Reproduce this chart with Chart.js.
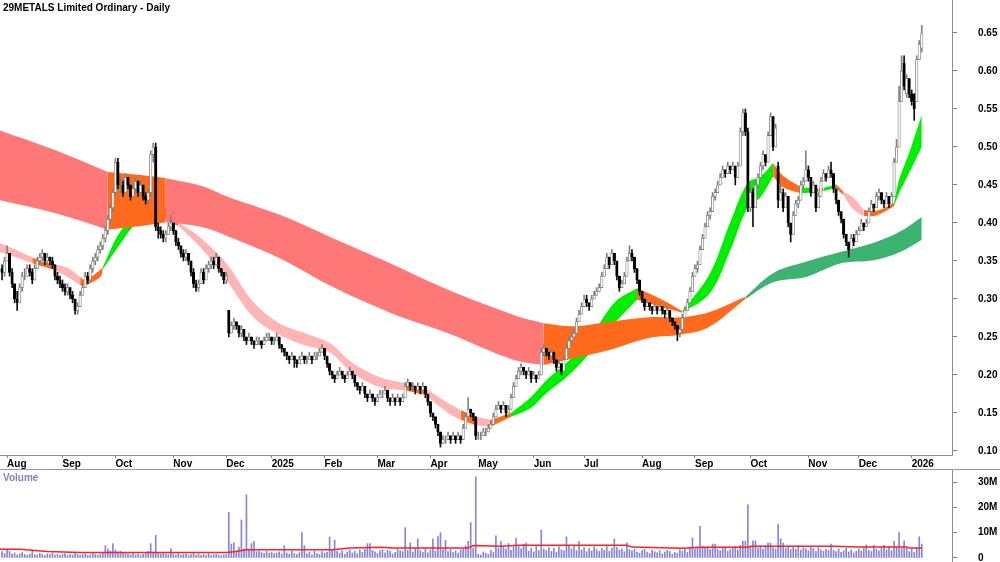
<!DOCTYPE html>
<html lang="pt-BR">
<head>
<meta charset="utf-8">
<title>29METALS Limited Ordinary - Daily</title>
<script src="https://cdn.jsdelivr.net/npm/chart.js@4.4.1/dist/chart.umd.min.js"></script>
<style>
  html, body { margin: 0; padding: 0; background: #fff; }
  #quadro { position: relative; width: 1000px; height: 562px; overflow: hidden; font-family: "Liberation Sans", Arial, sans-serif; }
  #grafico { position: absolute; left: 0; top: 0; }
  #graficoVolume { position: absolute; left: 0; top: 470px; }
  #titulo { position: absolute; left: 3px; top: 2px; font-weight: bold; font-size: 10px; color: #000; }
  #rotuloVolume { position: absolute; left: 3px; top: 472px; font-weight: bold; font-size: 10px; color: #8080c0; }
  #divisoria { position: absolute; left: 0; top: 469px; width: 1000px; height: 1px; background: #9a9a9a; }
</style>
</head>
<body>
<div id="quadro">
  <canvas id="grafico" width="1000" height="470"></canvas>
  <canvas id="graficoVolume" width="1000" height="92"></canvas>
  <div id="divisoria"></div>
  <div id="titulo">29METALS Limited Ordinary - Daily</div>
  <div id="rotuloVolume">Volume</div>
</div>
<script>
//-----------------------------------------------------------------------------------------------
// Eixo de datas: indice do pregao onde cada mes comeca
const meses = ['Aug','Sep','Oct','Nov','Dec','2025','Feb','Mar','Apr','May','Jun','Jul','Aug','Sep','Oct','Nov','Dec','2026'];
const inicioMes = [2,24,45,68,89,107,128,149,170,189,211,231,254,275,297,320,340,361];

// Marcas do eixo de preco (em centavos) e do volume (milhoes)
const marcasPreco = [10,15,20,25,30,35,40,45,50,55,60,65];
const marcasVolume = [0,10,20,30];

//-----------------------------------------------------------------------------------------------
// Velas diarias [abertura, maxima, minima, fechamento] em centavos
const velas = [
  [34,34.5,32.5,33.5],[33.5,35.5,33,35],[35,37,35,36],[36,36,33,33.5],[33.5,34,31.5,32],
  [32,32,29.5,30],[30,31,28.5,29.5],[29.5,32,29.5,31.5],[31.5,33.5,31,33],[33,34,32.5,33],
  [33,34.5,33,34],[34,34.5,33,33.5],[33.5,34,32,32.5],[32.5,34.5,32.5,34],[34,35.5,34,35],
  [35,36,34.5,35.5],[35.5,36.5,35,36],[36,36,34.5,35],[35,36,34.5,35.5],[35.5,35.5,34.5,35],
  [35,35.5,34,34.5],[34.5,34.5,32.5,33],[33,33.5,32,32.5],[32.5,33,31.5,32],[32,32.5,31,31.5],
  [31.5,32,30.5,31],[31,32,30.5,31.5],[31.5,31.5,30,30.5],[30.5,31,29.5,30],[30,30,28,28.5],
  [28.5,29.5,28,29],[29,31,29,30.5],[30.5,32,30.5,31.5],[31.5,33.5,31.5,33],[33,33.5,32,32.5],
  [32.5,34.5,32.5,34],[34,35.5,33.5,35],[35,36,34.5,35.5],[35.5,37,35,36.5],[36.5,37.5,36,37],
  [37,38.5,36.5,38],[38,39.5,37.5,39],[39,41,38.5,40.5],[40.5,42.5,40,42],[42,44.5,41.5,44],
  [44,48.5,43.5,48],[48,48.5,44.5,45],[45,46,44,45],[45,45.5,43.5,44],[44,46.5,44,46],
  [46,46,44.5,45],[45,45,43,43.5],[43.5,45,43.5,44.5],[44.5,46,44,45.5],[45.5,45.5,43.5,44],
  [44,45.5,44,45],[45,45,43,43.5],[43.5,44,42.5,43],[43,44.5,42.5,44],[44,49.5,43.5,49],
  [49,50.5,48,50],[50,50.5,39,39.5],[39.5,40,38,39],[39,39.5,38,38.5],[38.5,39,37.5,38],
  [38,39,37.5,38.5],[38.5,40,38.5,39.5],[39.5,41,39,40],[40,40,38.5,39],[39,39,37,37.5],
  [37.5,38,36.5,37],[37,37,35.5,36],[36,36.5,35,35.5],[35.5,36.5,35,36],[36,36,34.5,35],
  [35,35,33,33.5],[33.5,34,31.5,32],[32,32.5,31,31.5],[31.5,32.5,31,32],[32,34,32,33.5],
  [33.5,34,32,32.5],[32.5,34.5,32.5,34],[34,35,33.5,34.5],[34.5,35.5,34,35],[35,35.5,34,34.5],
  [34.5,36,34.5,35.5],[35.5,35.5,33.5,34],[34,34,33,33.5],[33.5,33.5,32,32.5],[32.5,33.5,32,33],
  [28.5,28.5,25,25.5],[25.5,27,25.5,26.5],[26.5,27.5,26,27],[27,27,26,26.5],[26.5,26.5,25,25.5],
  [25.5,26.5,25,26],[26,26,24.5,25],[25,25,24,24.5],[24.5,25.5,24.5,25],[25,25,24,24.5],
  [24.5,24.5,23.5,24],[24,25,24,24.5],[24.5,25,24,24.5],[24.5,24.5,23.5,24],[24,25,24,24.5],
  [24.5,25.5,24.5,25],[25,25.5,24.5,25],[25,25,24,24.5],[24.5,25,24,24.5],[24.5,25.5,24.5,25],
  [25,25,23.5,24],[24,24,23,23.5],[23.5,23.5,22.5,23],[23,23,22,22.5],[22.5,22.5,21.5,22],
  [22,23,22,22.5],[22.5,22.5,21,22],[22,22,21,21.5],[21.5,22.5,21.5,22],[22,23,22,22.5],
  [22.5,22.5,21.5,22],[22,22.5,21.5,22],[22,23,22,22.5],[22.5,22.5,21.5,22],[22,23,22,22.5],
  [22.5,23,22,22.5],[22.5,23.5,22.5,23],[23,24,23,23.5],[23.5,23.5,22,22.5],[22.5,22.5,21,21.5],
  [21.5,21.5,20,20.5],[20.5,20.5,19.5,20],[20,20,19,19.5],[19.5,20.5,19.5,20],[20,21,20,20.5],
  [20.5,20.5,19.5,20],[20,20,19,19.5],[19.5,20.5,19.5,20],[20,21,20,20.5],[20.5,20.5,19.5,20],
  [20,20,18.5,19],[19,19,18,18.5],[18.5,18.5,17.5,18],[18,19,18,18.5],[18.5,18.5,17,17.5],
  [17.5,17.5,16.5,17],[17,18,17,17.5],[17.5,17.5,16.5,17],[17,17,16,16.5],[16.5,17.5,16.5,17],
  [17,18,17,17.5],[17.5,18,17,17.5],[17.5,18.5,17.5,18],[18,18,16.5,17],[17,17,16,16.5],
  [16.5,17.5,16.5,17],[17,17,16,16.5],[16.5,17.5,16.5,17],[17,17,16,16.5],[16.5,17.5,16.5,17],
  [17,19,17,18.5],[18.5,19.5,18.5,19],[19,19,18,18.5],[18.5,19,18,18.5],[18.5,18.5,17.5,18],
  [18,19,18,18.5],[18.5,18.5,17.5,18],[18,19,18,18.5],[18.5,18.5,17,17.5],[17.5,17.5,16,16.5],
  [16.5,16.5,14.5,15],[15,15,14,14.5],[14.5,14.5,13,13.5],[13.5,13.5,12,12.5],[12.5,12.5,10.5,11],
  [11,12,11,11.5],[11.5,12,11,11.5],[11.5,12.5,11.5,12],[12,12,11,11.5],[11.5,12.5,11.5,12],
  [12,12,11,11.5],[11.5,12.5,11.5,12],[12,12,11,11.5],[11.5,13.5,11.5,13],[13,15,13,14.5],
  [14.5,17,14.5,15.5],[15.5,15.5,14.5,15],[15,15,14,14.5],[14.5,14.5,11.5,12],[12,12.5,11.5,12],
  [12,12.5,11.5,12],[12,13,12,12.5],[12.5,13,12,12.5],[12.5,13.5,12.5,13],[13,14,13,13.5],
  [13.5,15,13.5,14.5],[14.5,16,14.5,15.5],[15.5,16.5,15.5,16],[16,16,15,15.5],[15.5,16.5,15.5,16],
  [16,16,14.5,15],[15,16,15,15.5],[15.5,17.5,15.5,17],[17,19,17,18.5],[18.5,20,18.5,19.5],
  [19.5,21,19.5,20.5],[20.5,21.5,20,21],[21,21,20,20.5],[20.5,20.5,19.5,20],[20,21,20,20.5],
  [20.5,20.5,19,19.5],[19.5,20.5,19.5,20],[20,20,19,19.5],[19.5,20.5,19.5,20],[20,23.5,20,23],
  [23,24,22.5,23.5],[23.5,23.5,22.5,23],[23,23,22,22.5],[22.5,23.5,22.5,23],[23,23,21.5,22],
  [22,22,20.5,21],[21,22,21,21.5],[21.5,21.5,20,20.5],[20.5,22.5,20.5,22],[22,24,22,23.5],
  [23.5,25,23.5,24.5],[24.5,25.5,24,25],[25,26,25,25.5],[25.5,27.5,25.5,27],[27,28.5,27,28],
  [28,29.5,28,29],[29,30.5,29,30],[30,30.5,29,29.5],[29.5,29.5,28.5,29],[29,30.5,29,30],
  [30,31,30,30.5],[30.5,31.5,30.5,31],[31,32,31,31.5],[31.5,33.5,31.5,33],[33,34.5,33,34],
  [34,36,34,35.5],[35.5,35.5,34,34.5],[34.5,36.5,34.5,36],[36,36,34.5,35],[35,35,32.5,33],
  [33,33,31,31.5],[31.5,32.5,31.5,32],[32,33.5,32,33],[33,35.5,33,35],[35,37,35,36],
  [36,36.5,35,35.5],[35.5,35.5,33.5,34],[34,34,32,32.5],[32.5,32.5,30.5,31],[31,31,29.5,30],
  [30,30,28.5,29],[29,30,29,29.5],[29.5,29.5,28.5,29],[29,29,28,28.5],[28.5,29.5,28.5,29],
  [29,29,28,28.5],[28.5,29.5,28.5,29],[29,29,28,28.5],[28.5,28.5,27.5,28],[28,29,28,28.5],
  [28.5,28.5,27,27.5],[27.5,27.5,26.5,27],[27,27,26,26.5],[26.5,26.5,24.5,25.5],[25.5,26.5,25,26],
  [26,28,26,27.5],[27.5,29,27.5,28.5],[28.5,30,28.5,29.5],[29.5,31.5,29.5,31],[31,33.5,31,33],
  [33,34.5,33,34],[34,35,33.5,34.5],[34.5,37,34.5,36.5],[36.5,38.5,36.5,38],[38,40,38,39.5],
  [39.5,41.5,39.5,41],[41,42,40.5,41.5],[41.5,44,41.5,43.5],[43.5,44.5,43,44],[44,45.5,44,45],
  [45,46.5,45,46],[46,47.5,46,47],[47,47,46,46.5],[46.5,48,46.5,47.5],[47.5,47.5,46.5,47],
  [47,48,47,47.5],[47.5,47.5,45,46],[46,48,46,47.5],[47.5,52.5,47.5,52],[52,55,51.5,54.5],
  [54.5,55,51.5,52],[52,52.5,41.5,42],[42,44.5,41.5,44],[44,44.5,39.5,42],[42,45.5,42,45],
  [45,46.5,44.5,46],[46,48,46,47.5],[47.5,49.5,47,49],[49,49,47.5,48],[48,52,48,51.5],
  [51.5,54.5,51.5,54],[54,54,49.5,50],[50,53,50,52.5],[47.5,48,42,43],[43,45,43,44],
  [44,44.5,41.5,42],[42,44,42,43.5],[43.5,43.5,39.5,40],[40,40,37.5,38.5],[38.5,41.5,38.5,41],
  [41,43,41,42.5],[42.5,43.5,42,43],[43,45.5,43,45],[45,46,44.5,45.5],[45.5,49.5,45.5,47],
  [47,47.5,45.5,46],[46,46,43.5,44],[44,45.5,44,45],[45,45,41.5,42],[42,44,42,43.5],
  [43.5,46,43.5,45.5],[45.5,47,45.5,46.5],[46.5,46.5,45.5,46],[46,47.5,46,47],[47,48,46,46.5],
  [46.5,46.5,44,44.5],[44.5,44.5,42.5,43],[43,43,41,41.5],[41.5,41.5,40,40.5],[40.5,40.5,38,38.5],
  [38.5,38.5,37,37.5],[37.5,37.5,35.5,36.5],[36.5,38.5,36.5,38],[38,38.5,37,37.5],[37.5,39,37.5,38.5],
  [38.5,39.5,38.5,39],[39,40.5,39,40],[40,40,39,39.5],[39.5,40.5,39.5,40],[40,42,40,41.5],
  [41.5,43,41.5,42.5],[42.5,42.5,41.5,42],[42,44,42,43.5],[43.5,44.5,43,44],[44,44,42.5,43],
  [43,43,42,42.5],[42.5,44,42.5,43.5],[43.5,43.5,42,42.5],[42.5,44,42.5,43.5],[43.5,48.5,43.5,48],
  [48,51,48,50],[50,58,50,56],[56,62,56,60],[61,62,57.5,58],[57,59.5,56.5,59],
  [59,59,56.5,57],[57,57.5,55.5,56],[57,57,53.5,55],[56,62,56,61.5],[61.5,64,61.5,63.5],
  [63,66,62.5,65]
];

// Volume diario em milhoes
const volumes = [
  2.5,1.8,3,2.6,1.5,2,1.2,1.6,2.2,1.4, 1.1,1.5,2.8,1.3,1.2,1.9,1.4,1,1.6,1.3,
  2,1.2,1.4,1.1,1.5,1.7,1,1.3,1.2,1.8, 1.4,1.1,1.3,1.6,1,1.2,1.9,1.4,1.1,1.5,
  2.2,4.9,3.5,2.8,5.7,3.2,2.4,2.6,2,1.8, 1.6,1.3,1.9,1.2,1.5,1,1.4,1.7,2.6,5.7,
  2.4,9,2.2,1.6,2,1.5,1.3,3.7,1.6,1.2, 1.8,1.1,1.4,1.5,1,1.3,2,1.2,1.6,1.1,
  1.4,1.2,1.7,1,1.3,1.5,1.1,0.9,1.2,1.4, 18,5.5,6,2.4,4.3,15,3.6,25,3.5,5.7,
  6.6,2.5,2.8,2.2,1.8,2.6,1.9,2.3,1.7,2, 2.4,1.6,4.9,2,1.5,2.7,1.8,1.3,2.1,10,
  4.9,1.6,2.3,1.2,2.8,1.7,1.4,2.5,1.9,2.2, 8.3,3,7,2.6,1.8,2.9,1.5,2.4,3.1,2,
  2.6,1.7,3.2,2.2,3.5,5.7,5.7,3,2.4,1.8, 2.9,3.3,2,3.1,2.6,1.6,2.2,3.4,2.8,2.5,
  12,3,6,2.4,3.8,7.6,2.9,2.2,3.5,2, 3.1,7.6,2.7,8.5,10,3.3,7,2.5,3.4,2.1,
  2.8,1.9,3.2,3.5,4.8,6.6,14,4,32,1.5, 1.2,2.4,1.8,1.4,3,2.2,8.8,3.9,6.6,4.2,
  3.5,5.7,3,4.4,7.9,4.8,3.6,5.5,6,2.7, 3.9,2.4,4.6,3,11,3.5,2.9,4.1,2.6,3.8,
  2.2,4.4,3.3,2.8,8.3,5,3.6,4.7,2.9,6.6, 3.2,4.1,2.5,3.7,2.8,4.4,3.3,2.6,3.9,3.1,
  4.5,2.7,3.8,7.5,4.2,3.1,3.6,2.4,6,3.3, 2.8,3.5,2.2,1.9,2.9,3.4,2.3,1.8,3.1,2.5,
  2.1,2.9,1.6,2.4,3,2.7,1.4,2.2,1.9,3.2, 2.6,3.4,2.2,4.1,7.9,3.6,4.2,12.5,4.6,3.8,
  4.4,3.3,5.5,5.5,3.5,2.9,3.8,4.1,2.7,3.4, 3.9,4.6,3.2,5,6.6,6.6,21,4.4,6.8,6.8,
  3.9,4.3,3.5,4.8,5.9,5.9,4,3.6,13.4,7.6, 5.9,3.8,4.6,3.3,4.2,3.5,4.8,3.1,4,3.6,
  2.9,4.4,3.7,2.6,4.1,3.2,2.7,3.5,3,5.5, 3.1,2.5,3.6,2.2,2.9,3.8,2.4,3.2,2,2.7,
  3.5,2.8,3.9,5.2,3,2.6,5,3.4,2.8,3.9, 5,3.2,4.6,2.9,6.6,4.2,10,3.7,6.8,4.1,
  2.5,3.6,2.2,4,8.4,5.5
];

// Media do volume (linha vermelha), lida em pontos
const mediaVolX = [-1,7,18,31,89,92,97,131,138,151,155,185,187,198,205,248,250,270,277,296,297,330,340,359,360,365];
const mediaVolY = [3.5,3.5,2.6,2.2,2.2,2.5,3.3,3.3,3.9,4.2,3.9,3.9,4.9,4.6,5,5,4.3,3.8,4.2,4.2,4.6,4.6,4.3,4.3,3.9,3.9];

//-----------------------------------------------------------------------------------------------
// Faixa das medias longas (topo / base em centavos); estado: r = vermelho, o = laranja, g = verde
const longoX    = [-1,21,42,55,65,79,90,110,130,154,177,203,215,227,241,257,269,280,295,306,319,333,346,356,365];
const longoTopo = [52.2,49.6,46.7,46.3,45.9,44.9,43.4,41.1,38.2,34.7,31.2,27.9,26.8,26.4,27.0,27.6,27.6,28.2,30.3,33.4,34.9,36.2,37.4,38.8,40.8];
const longoBase = [43.0,41.3,39.1,39.6,40.1,39.5,38.2,35.4,31.8,28.2,25.5,22.0,21.3,22.2,23.3,24.9,25.3,26.2,30.0,32.2,32.9,34.7,35.1,36.1,37.8];
const longoEstado = ['r','r','o','o','r','r','r','r','r','r','r','r','o','o','o','o','o','o','g','g','g','g','g','g','g'];

// Faixa das medias curtas; estado: p = rosa, o = laranja, g = verde
const curtoX    = [-1,12,16,20,26,31,33,39,40,46,52,59,61,67,70,79,89,100,110,121,130,139,150,160,168,177,182,188,194,202,210,216,224,232,243,252,262,270,281,289,296,301,306,310,317,324,326,331,334,338,342,347,354,356,360,365];
const curtoTopo = [37.4,35.5,34.9,34.6,34.1,32.9,32.5,33.8,34.2,38.4,40.8,42.6,43.6,40.9,40.1,38.0,34.7,29.5,26.8,25.4,24.2,21.6,19.7,18.9,18.3,16.3,15.4,14.5,14.1,15.0,17.1,19.3,21.6,24.2,29.5,31.4,29.9,28.4,33.4,40.1,45.3,46.1,47.9,46.2,44.7,44.5,44.6,45.1,44.1,43.3,41.7,41.6,42.6,45.7,49.2,54.2];
const curtoBase = [36.2,34.7,34.3,33.9,32.9,31.8,31.8,32.9,33.9,36.8,39.5,41.3,41.4,40.1,39.6,36.7,32.5,27.5,25.3,23.8,23.0,20.3,18.4,18.0,17.4,15.0,14.1,13.4,13.2,14.5,15.7,17.6,19.7,22.4,26.8,29.9,28.9,28.2,30.8,36.4,42.1,43.4,46.1,44.7,43.9,44.1,44.2,44.6,43.6,41.7,40.9,41.0,42.2,43.9,46.6,50.0];
const curtoEstado = ['p','o','o','p','p','o','o','o','g','g','g','g','o','o','p','p','p','p','p','p','p','p','p','o','p','p','o','p','o','g','g','g','g','g','g','o','o','g','g','g','g','g','o','o','g','o','g','o','p','p','o','o','g','g','g','g'];

//-----------------------------------------------------------------------------------------------
const coresLongo = { r: '#ff7878', o: '#ff6a1c', g: '#3cb371' };
const coresCurto = { p: '#ffb5b5', o: '#ff6a1c', g: '#00ee00' };
const fonte = { family: '"Liberation Sans", Arial, sans-serif', size: 10, weight: 'bold' };

// Monta pares de linhas (base + topo preenchido) para cada trecho de mesma cor
function montarFaixa(xs, topo, base, estado, cores, lista) {
    let ini = 0;
    for (let k = 1; k <= xs.length; k++) {
        if (k === xs.length || estado[k] !== estado[ini]) {
            const fim = Math.min(k, xs.length - 1);
            const baixo = [], alto = [];
            for (let j = ini; j <= fim; j++) {
                baixo.push({ x: xs[j], y: base[j] });
                alto.push({ x: xs[j], y: topo[j] });
            }
            const comum = { type: 'line', pointRadius: 0, borderWidth: 0, tension: 0.35, order: 3 };
            lista.push({ ...comum, data: baixo, fill: false });
            lista.push({ ...comum, data: alto, fill: '-1', backgroundColor: cores[estado[ini]] });
            ini = k;
        }
    }
}

const conjuntos = [];
montarFaixa(longoX, longoTopo, longoBase, longoEstado, coresLongo, conjuntos);
montarFaixa(curtoX, curtoTopo, curtoBase, curtoEstado, coresCurto, conjuntos);

// Velas: pavio (maxima/minima) e corpo (abertura/fechamento)
const sobe = velas.map(v => v[3] >= v[0]);
conjuntos.push({
    type: 'bar',
    data: velas.map((v, i) => ({ x: i, y: [v[2], v[1]] })),
    grouped: false,
    barThickness: 1,
    backgroundColor: sobe.map(s => s ? '#808080' : '#111'),
    order: 2
});
conjuntos.push({
    type: 'bar',
    data: velas.map((v, i) => ({ x: i, y: [v[0], v[3]] })),
    grouped: false,
    barThickness: 2.5,
    backgroundColor: sobe.map(s => s ? '#fff' : '#000'),
    borderColor: sobe.map(s => s ? '#808080' : '#000'),
    borderWidth: 0.8,
    borderSkipped: false,
    order: 1
});

//-----------------------------------------------------------------------------------------------
// Grafico de preco
new Chart(document.getElementById('grafico'), {
    type: 'bar',
    data: { datasets: conjuntos },
    options: {
        responsive: false,
        animation: false,
        layout: { padding: 0 },
        plugins: { legend: { display: false }, tooltip: { enabled: false } },
        scales: {
            x: {
                type: 'linear',
                min: -0.8,
                max: 377,
                offset: false,
                afterBuildTicks: s => { s.ticks = inicioMes.map(v => ({ value: v })); },
                afterFit: s => { s.height = 15; s.paddingLeft = 0; s.paddingRight = 0; },
                grid: { drawOnChartArea: false, offset: false, tickLength: 3, color: '#808080' },
                border: { display: true, color: '#8c8c8c' },
                ticks: {
                    autoSkip: false, maxRotation: 0, align: 'start', padding: 0,
                    color: '#000', font: fonte,
                    callback: v => meses[inicioMes.indexOf(v)]
                }
            },
            y: {
                position: 'right',
                min: 9.47,
                max: 69.34,
                afterBuildTicks: s => { s.ticks = marcasPreco.map(v => ({ value: v })); },
                afterFit: s => { s.width = 48; s.paddingTop = 0; s.paddingBottom = 0; },
                grid: { drawOnChartArea: false, tickLength: 5, color: '#808080' },
                border: { display: true, color: '#8c8c8c' },
                ticks: { padding: 21, color: '#000', font: fonte, callback: v => (v / 100).toFixed(2) }
            }
        }
    }
});

//-----------------------------------------------------------------------------------------------
// Grafico de volume
new Chart(document.getElementById('graficoVolume'), {
    type: 'bar',
    data: {
        datasets: [
            {
                type: 'line',
                data: mediaVolX.map((x, i) => ({ x: x, y: mediaVolY[i] })),
                borderColor: '#ff2020',
                borderWidth: 1.5,
                pointRadius: 0,
                tension: 0,
                order: 1
            },
            {
                type: 'bar',
                data: volumes.map((v, i) => ({ x: i, y: v })),
                barThickness: 1,
                backgroundColor: '#8686d6',
                order: 2
            }
        ]
    },
    options: {
        responsive: false,
        animation: false,
        layout: { padding: 0 },
        plugins: { legend: { display: false }, tooltip: { enabled: false } },
        scales: {
            x: { type: 'linear', min: -0.8, max: 377, offset: false, display: false },
            y: {
                position: 'right',
                min: -1.58,
                max: 34.74,
                afterBuildTicks: s => { s.ticks = marcasVolume.map(v => ({ value: v })); },
                afterFit: s => { s.width = 48; s.paddingTop = 0; s.paddingBottom = 0; },
                grid: { drawOnChartArea: false, tickLength: 5, color: '#808080' },
                border: { display: true, color: '#8c8c8c' },
                ticks: { padding: 21, color: '#000', font: fonte, callback: v => v === 0 ? '0' : v + 'M' }
            }
        }
    }
});
</script>
</body>
</html>
